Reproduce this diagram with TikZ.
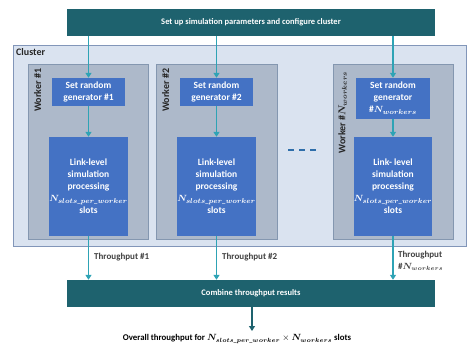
\documentclass[tikz,border=0pt]{standalone}
\usepackage{fontspec}
\usepackage{amsmath}
\usepackage{bm}
\setmainfont{Carlito}
\usetikzlibrary{arrows.meta,calc}
\definecolor{darkteal}{RGB}{30,98,110}
\definecolor{clusterfill}{RGB}{218,227,240}
\definecolor{clusterdraw}{RGB}{130,150,185}
\definecolor{workerfill}{RGB}{173,185,202}
\definecolor{workerdraw}{RGB}{132,151,176}
\definecolor{procblue}{RGB}{68,114,196}
\definecolor{arrowteal}{RGB}{46,163,181}
\definecolor{labelgray}{RGB}{64,64,64}
\definecolor{dashblue}{RGB}{46,110,170}
\newcommand{\Nspw}{\bm{N}_{\bm{slots\_per\_worker}}}
\newcommand{\Nw}{\bm{N}_{\bm{workers}}}
\tikzset{
  bar/.style={draw=none, fill=darkteal, text=white, font=\bfseries\fontsize{8.5}{10}\selectfont, minimum width=368pt, minimum height=27pt, inner sep=0pt},
  clusterbox/.style={draw=clusterdraw, line width=0.8pt, fill=clusterfill, minimum width=453pt, minimum height=201pt, inner sep=0pt},
  workerbox/.style={draw=workerdraw, line width=0.8pt, fill=workerfill, minimum height=175pt, inner sep=0pt},
  procbox/.style={fill=procblue, text=white, font=\bfseries\fontsize{9.5}{12}\selectfont, align=center, minimum width=73pt, inner sep=0pt},
  flow/.style={draw=arrowteal, line width=1.3pt, -{Triangle[width=6pt,length=5pt]}},
  outflow/.style={draw=darkteal, line width=1.3pt, -{Triangle[width=6pt,length=5pt]}},
  wlabel/.style={rotate=90, anchor=east, font=\bfseries\fontsize{10}{12}\selectfont, text=black!85, inner sep=0pt},
  tplabel/.style={anchor=west, font=\bfseries\fontsize{9}{12}\selectfont, text=labelgray, align=left, inner sep=0pt},
}
\begin{document}
\begin{tikzpicture}[x=1pt,y=-1pt]
\useasboundingbox (0,0) rectangle (474,351);
% cluster
\node[clusterbox] (cluster) at (239.5,145.5) {};
\node[anchor=north west, font=\bfseries\fontsize{10}{12}\selectfont, text=black!85, inner sep=0pt] (clusterlbl) at (16,48) {Cluster};
% top bar
\node[bar] (setup) at (251,22.5) {Set up simulation parameters and configure cluster};
% workers
\node[workerbox, minimum width=120pt] (w1) at (88,151.5) {};
\node[workerbox, minimum width=121pt] (w2) at (216.5,151.5) {};
\node[workerbox, minimum width=120pt] (wn) at (393,151.5) {};
\node[wlabel] (w1lbl) at ($(w1.north west)+(10,5)$) {Worker \#1};
\node[wlabel] (w2lbl) at ($(w2.north west)+(10,5)$) {Worker \#2};
\node[wlabel] (wnlbl) at ($(wn.north west)+(10,8)$) {Worker \#$\Nw$};
% generators
\node[procbox, minimum height=28pt] (g1) at (88.5,92) {Set random\\generator \#1};
\node[procbox, minimum height=28pt] (g2) at (216.5,92) {Set random\\generator \#2};
\node[procbox, minimum height=41pt, minimum width=74pt] (gn) at (393,98.5) {Set random\\generator\\\#$\Nw$};
% processing
\node[procbox, minimum height=99pt] (p1) at (88.5,186.5) {Link-level\\simulation\\processing\\$\Nspw$\\slots};
\node[procbox, minimum height=99pt] (p2) at (216.5,186.5) {Link-level\\simulation\\processing\\$\Nspw$\\slots};
\node[procbox, minimum height=99pt] (pn) at (393,186.5) {Link- level\\simulation\\processing\\$\Nspw$\\slots};
% dashes
\coordinate (dashL) at (288,150);
\coordinate (dashR) at (318,150);
\draw[dashblue, line width=1.6pt, dash pattern=on 6pt off 5pt] (dashL) -- (dashR);
% combine
\node[bar] (combine) at (251,293.5) {Combine throughput results};
% output
\node[font=\bfseries\fontsize{8.8}{10}\selectfont, text=black, inner sep=0pt] (out) at (237,339) {Overall throughput for $\Nspw\times\Nw$ slots};
% arrows
\draw[flow] (setup.south -| g1) -- (g1.north);
\draw[flow] (setup.south -| g2) -- (g2.north);
\draw[flow] (setup.south -| gn) -- (gn.north);
\draw[flow] (g1) -- (p1);
\draw[flow] (g2) -- (p2);
\draw[flow] (gn) -- (pn);
\draw[flow] (p1.south) -- (combine.north -| p1);
\draw[flow] (p2.south) -- (combine.north -| p2);
\draw[flow] (pn.south) -- (combine.north -| pn);
\node[tplabel] (t1) at (94,257) {Throughput \#1};
\node[tplabel] (t2) at (222,257) {Throughput \#2};
\node[tplabel, anchor=north west] (tn) at (398,251) {Throughput\\\#$\Nw$};
\coordinate (outend) at (252,331);
\draw[outflow] (combine.south -| outend) -- (outend);
\end{tikzpicture}
\end{document}
